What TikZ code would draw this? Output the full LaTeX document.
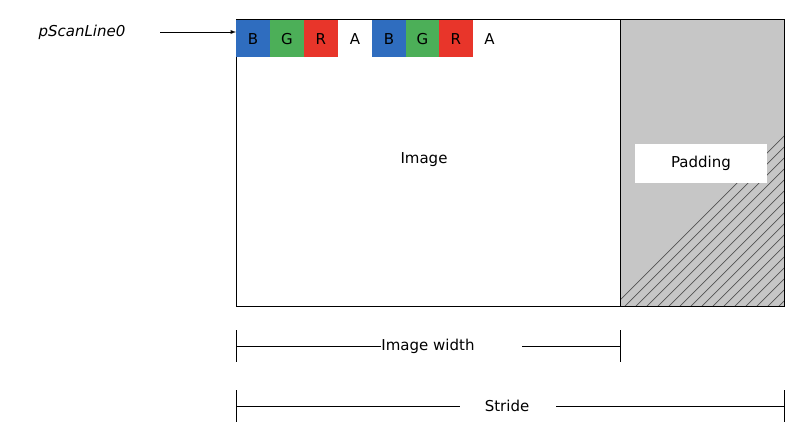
\documentclass[tikz,border=0pt]{standalone}
\usepackage{fontspec}
\setmainfont{DejaVu Sans}
\definecolor{cb}{HTML}{2F6DBF}
\definecolor{cg}{HTML}{4CAF58}
\definecolor{cr}{HTML}{E8352A}
\begin{document}
\begin{tikzpicture}[x=1pt,y=-1pt,
  lbl/.style={font=\fontsize{15}{18}\selectfont,inner sep=0pt},
  cell/.style={minimum width=33.5pt,minimum height=37pt,inner sep=0pt,anchor=north west,font=\fontsize{15}{18}\selectfont},
  dim/.style={line width=0.8pt}]
\useasboundingbox (0,0) rectangle (800,439);
% padding
\fill[gray!45] (620,19) rectangle (784,306);
\begin{scope}
\clip (620,19) rectangle (784,306);
\foreach \i in {0,...,45} \draw[gray!65!black,line width=0.7pt] (600+11*\i,320) -- ++(300,-300);
\end{scope}
\node[fill=white,minimum width=132pt,minimum height=39pt,lbl] (pad) at (701,163) {Padding};
\draw[line width=0.9pt] (236,19) rectangle (784,306);
\draw[line width=0.9pt] (620,19) -- (620,306);
\node[lbl] (img) at (424,160) {Image};
% cells
\node[cell,fill=cb] (c1) at (236,20) {B};
\node[cell,fill=cg] (c2) at (270,20) {G};
\node[cell,fill=cr] (c3) at (304,20) {R};
\node[cell] (c4) at (338,20) {A};
\node[cell,fill=cb] (c5) at (372,20) {B};
\node[cell,fill=cg] (c6) at (405.5,20) {G};
\node[cell,fill=cr] (c7) at (439,20) {R};
\node[cell] (c8) at (472.5,20) {A};
% pointer
\node[lbl,font=\fontsize{15}{18}\selectfont\itshape] (ptr) at (82,32) {pScanLine0};
\coordinate (pe) at (236,32);
\draw[line width=0.9pt,-latex] (160,32) -- (pe);
% dimensions
\node[lbl] (iw) at (428,346) {Image width};
\draw[dim] (236,330) -- (236,362) (620,330) -- (620,362);
\draw[dim] (236,346) -- (iw.west) ++(-10,0);
\draw[dim] (236,346) -- (333,346) (522,346) -- (620,346);
\node[lbl] (st) at (507,406) {Stride};
\draw[dim] (236,390) -- (236,422) (784,390) -- (784,422);
\draw[dim] (236,406) -- (460,406) (556,406) -- (784,406);
\end{tikzpicture}
\end{document}
